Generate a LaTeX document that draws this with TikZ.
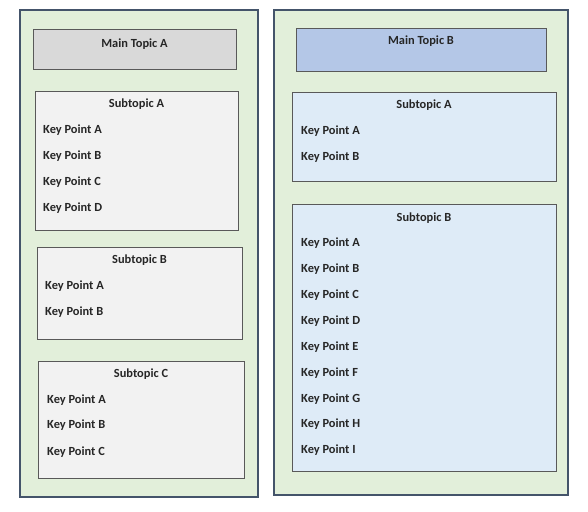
\documentclass[tikz,border=0pt]{standalone}
\usepackage{fontspec}
\setmainfont{Carlito}
\definecolor{panelfill}{HTML}{E2EFDA}
\definecolor{paneldraw}{HTML}{44546A}
\definecolor{greyfill}{HTML}{F2F2F2}
\definecolor{maingrey}{HTML}{D9D9D9}
\definecolor{bluefill}{HTML}{DEEBF7}
\definecolor{mainblue}{HTML}{B4C7E7}
\definecolor{boxdraw}{HTML}{595959}
\tikzset{
  panel/.style={draw=paneldraw, fill=panelfill, line width=1.2pt, anchor=north west,
    inner sep=0pt, outer sep=0pt},
  card/.style={draw=boxdraw, line width=0.8pt, anchor=north west, inner sep=0pt, outer sep=0pt},
  label/.style={font=\fontsize{12.4}{14}\selectfont\bfseries, text=black!85, inner sep=0pt},
}
\begin{document}
\begin{tikzpicture}[x=1pt,y=-1pt]
  \useasboundingbox[fill=white] (0,0) rectangle (588,511);
  % left column
  \node[panel, minimum width=238pt, minimum height=487pt] (colA) at (20,10) {};
  \node[card, fill=maingrey, minimum width=203pt, minimum height=40pt] (mainA) at (33,29) {};
  \node[label, anchor=base] (mainAt) at (134.5,48) {Main Topic A};
  \node[card, fill=greyfill, minimum width=203pt, minimum height=139pt] (subAA) at (35,91) {};
  \node[label, anchor=base] (subAAt) at (136.5,107) {Subtopic A};
  \foreach \y/\k in {129/A, 155/B, 181/C, 207/D}
    \node[label, anchor=base west] (kpAA\k) at (43,\y+4) {Key Point \k};
  \node[card, fill=greyfill, minimum width=205pt, minimum height=92pt] (subAB) at (37,247) {};
  \node[label, anchor=base] (subABt) at (139.5,263) {Subtopic B};
  \foreach \y/\k in {285/A, 311/B}
    \node[label, anchor=base west] (kpAB\k) at (45,\y+4) {Key Point \k};
  \node[card, fill=greyfill, minimum width=206pt, minimum height=117pt] (subAC) at (38,361) {};
  \node[label, anchor=base] (subACt) at (141,377) {Subtopic C};
  \foreach \y/\k in {399/A, 424/B, 451/C}
    \node[label, anchor=base west] (kpAC\k) at (47,\y+4) {Key Point \k};
  % right column
  \node[panel, minimum width=294pt, minimum height=485pt] (colB) at (274,10) {};
  \node[card, fill=mainblue, minimum width=250pt, minimum height=43pt] (mainB) at (296,28) {};
  \node[label, anchor=base] (mainBt) at (421,45) {Main Topic B};
  \node[card, fill=bluefill, minimum width=264pt, minimum height=89pt] (subBA) at (292,92) {};
  \node[label, anchor=base] (subBAt) at (424,108) {Subtopic A};
  \foreach \y/\k in {130/A, 156/B}
    \node[label, anchor=base west] (kpBA\k) at (301,\y+4) {Key Point \k};
  \node[card, fill=bluefill, minimum width=264pt, minimum height=267pt] (subBB) at (292,204) {};
  \node[label, anchor=base] (subBBt) at (424,221) {Subtopic B};
  \foreach \y/\k in {242/A, 268/B, 294/C, 320/D, 346/E, 372/F, 398/G, 423/H, 449/I}
    \node[label, anchor=base west] (kpBB\k) at (301,\y+4) {Key Point \k};
\end{tikzpicture}
\end{document}
